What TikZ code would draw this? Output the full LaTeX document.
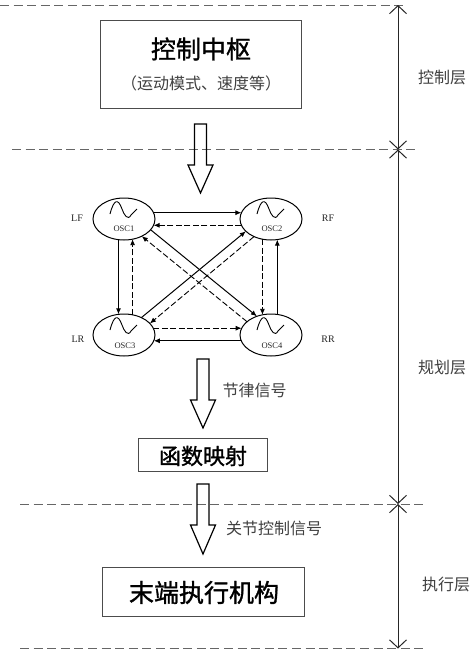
\documentclass[tikz,border=0pt]{standalone}
\usepackage{fontspec}
\setmainfont{Liberation Serif}
\newfontfamily\cjk{Noto Sans CJK SC}
\newfontfamily\cjkb[FakeBold=1.2]{Noto Sans CJK SC}
\usetikzlibrary{arrows.meta,shapes.geometric}
\newcommand{\fs}[1]{\fontsize{#1}{#1}\selectfont}
\tikzset{
  boxnode/.style={draw=black!70,line width=1pt,fill=white,inner sep=0pt,outer sep=0pt},
  titletext/.style={inner sep=0pt,font=\cjkb},
  cjklabel/.style={inner sep=0pt,text=black!75,font=\cjk\fs{16}},
  oscnode/.style={draw=black,line width=1pt,ellipse,minimum width=62pt,minimum height=42pt,inner sep=0pt,outer sep=0pt},
  osctext/.style={inner sep=0pt,font=\fs{8.5},text=black!85},
  cornertext/.style={inner sep=0pt,font=\fs{10},text=black!85},
  levelline/.style={draw=black!60,line width=1pt,dash pattern=on 9pt off 4.6pt},
  dimline/.style={draw=black!85,line width=1pt,{Straight Barb[length=8pt,width=17pt]}-{Straight Barb[length=8pt,width=17pt]}},
  solidlink/.style={draw=black,line width=1pt,-{Latex[length=6pt,width=5pt]}},
  dashlink/.style={draw=black,line width=0.9pt,dash pattern=on 6pt off 2.5pt,-{Latex[length=6pt,width=5pt]}},
  blockarrow/.style={draw=black,line width=1.2pt,line join=miter},
  wave/.style={draw=black,line width=0.9pt}
}
\newcommand{\blockarrow}[4]{% centre x, top y, head y, tip y
  \draw[blockarrow] (#1-6,#2) -- (#1+6,#2) -- (#1+6,#3) -- (#1+12.5,#3) -- (#1,#4) -- (#1-12.5,#3) -- (#1-6,#3) -- cycle;}
\newcommand{\oscwave}[1]{%
  \draw[wave] ([shift={(-14,-5)}]#1.center) .. controls ([shift={(-10,-20)}]#1.center) and ([shift={(-6,-21)}]#1.center) .. ([shift={(-2,-10)}]#1.center) .. controls ([shift={(0,-4)}]#1.center) and ([shift={(4,2)}]#1.center) .. ([shift={(7,-4)}]#1.center) -- ([shift={(13,-10)}]#1.center);}
\begin{document}
\begin{tikzpicture}[x=1pt,y=-1pt]
\useasboundingbox[fill=white] (0,0) rectangle (474,653);
% level lines
\coordinate (l1a) at (0,5);    \coordinate (l1b) at (407,5);
\coordinate (l2a) at (12,149.5); \coordinate (l2b) at (415,149.5);
\coordinate (l3a) at (20,504); \coordinate (l3b) at (424,504);
\coordinate (l4a) at (20,648.5); \coordinate (l4b) at (424,648.5);
\draw[levelline] (l1a) -- (l1b);
\draw[levelline] (l2a) -- (l2b);
\draw[levelline] (l3a) -- (l3b);
\draw[levelline] (l4a) -- (l4b);
% dimension line
\coordinate (d1) at (398,5); \coordinate (d2) at (398,149.5);
\coordinate (d3) at (398,504); \coordinate (d4) at (398,648.5);
\draw[dimline] (d1) -- (d2);
\draw[dimline] (d2) -- (d3);
\draw[dimline] (d3) -- (d4);
\node[cjklabel] (c1) at (442,77) {控制层};
\node[cjklabel] (c2) at (442,367) {规划层};
\node[cjklabel] (c3) at (446,584) {执行层};
% boxes
\node[boxnode,minimum width=201.5pt,minimum height=88.5pt] (top) at (201.2,64.7) {};
\node[titletext,font=\cjkb\fs{25}] (toptitle) at (201,49) {控制中枢};
\node[cjklabel,font=\cjk\fs{16}] (topsub) at (201,83) {（运动模式、速度等）};
\node[boxnode,minimum width=129pt,minimum height=32.5pt] (map) at (203,455.2) {};
\node[titletext,font=\cjkb\fs{22}] (maptext) at (203,456) {函数映射};
\node[boxnode,minimum width=202pt,minimum height=49pt] (end) at (203,592) {};
\node[titletext,font=\cjkb\fs{25}] (endtext) at (204,592.5) {末端执行机构};
% block arrows
\blockarrow{200.5}{124}{165}{193}
\blockarrow{203}{359}{400}{428}
\blockarrow{203}{484}{525}{554}
\node[cjklabel] (sig1) at (254.5,390) {节律信号};
\node[cjklabel] (sig2) at (274,528) {关节控制信号};
% oscillators
\node[oscnode] (o1) at (124,219) {};
\node[oscnode] (o2) at (271,219) {};
\node[oscnode] (o3) at (124,335) {};
\node[oscnode] (o4) at (271,335) {};
\oscwave{o1}\oscwave{o2}\oscwave{o3}\oscwave{o4}
\node[osctext] (t1) at (124,229) {OSC1};
\node[osctext] (t2) at (272,229) {OSC2};
\node[osctext] (t3) at (125,346) {OSC3};
\node[osctext] (t4) at (272,346) {OSC4};
\node[cornertext] (lf) at (77,218) {LF};
\node[cornertext] (rf) at (328,218) {RF};
\node[cornertext] (lr) at (78,339) {LR};
\node[cornertext] (rr) at (328,339) {RR};
% links
\draw[solidlink] (o1.12) -- (o2.168);
\draw[dashlink] (o2.192) -- (o1.348);
\draw[dashlink] (o3.13) -- (o4.167);
\draw[solidlink] (o4.191) -- (o3.349);
\draw[solidlink] (o1.255) -- (o3.105);
\draw[dashlink] (o3.67) -- (o1.293);
\draw[dashlink] (o2.247) -- (o4.113);
\draw[solidlink] (o4.73) -- (o2.287);
\draw[solidlink] (o1.338.6) -- (o4.127);
\draw[dashlink] (o4.151.7) -- (o1.316.5);
\draw[solidlink] (o3.45) -- (o2.206.6);
\draw[dashlink] (o2.226.5) -- (o3.24.8);
\end{tikzpicture}
\end{document}
